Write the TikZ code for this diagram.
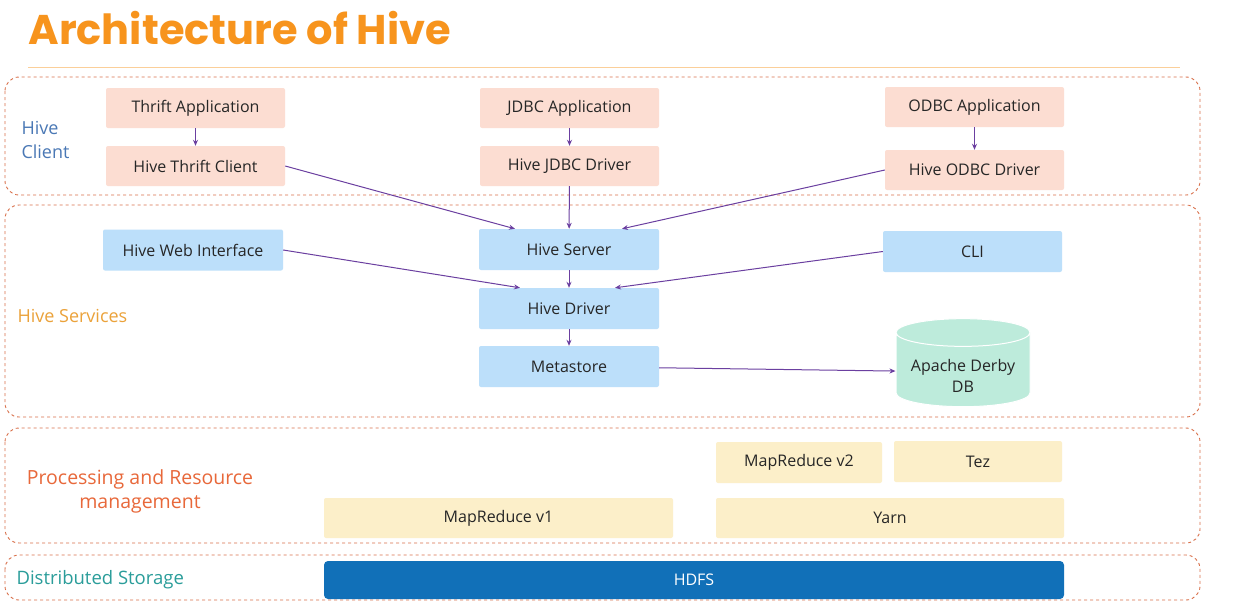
\documentclass[tikz,border=0pt]{standalone}
\usepackage{fontspec}
\setmainfont{Open Sans}
\newfontfamily\titlefont{Poppins}
\usetikzlibrary{shapes.geometric,arrows.meta}
\definecolor{ttl}{HTML}{F7941D}
\definecolor{dash}{HTML}{D9704A}
\definecolor{pinkb}{HTML}{FCDDD2}
\definecolor{blueb}{HTML}{BCDFFA}
\definecolor{yelb}{HTML}{FCEFC9}
\definecolor{mint}{HTML}{BDEBDB}
\definecolor{hdfs}{HTML}{1170B8}
\definecolor{arr}{HTML}{6B3FA0}
\definecolor{hcl}{HTML}{4A78B5}
\definecolor{hsl}{HTML}{EBA23A}
\definecolor{prl}{HTML}{E8683A}
\definecolor{dsl}{HTML}{2A9D9A}
\begin{document}
\begin{tikzpicture}[x=1pt,y=-1pt,
  every node/.style={font=\fontsize{16}{19}\selectfont, text=black!85},
  grp/.style={draw=dash,dashed,line width=0.9pt,rounded corners=14pt},
  bx/.style={rounded corners=2pt,inner sep=0pt},
  ar/.style={draw=arr,line width=1pt,-{Stealth[length=6pt,width=5pt]}}]
\useasboundingbox[fill=white] (0,0) rectangle (1233,605);
\node[anchor=west,font=\titlefont\bfseries\fontsize{41.5}{45}\selectfont,text=ttl] (title) at (25,28) {Architecture of Hive};
\draw[ttl!45,line width=0.8pt] (28,67) coordinate (l1) -- (1180,67) coordinate (l2);
\draw[grp] (5,77) rectangle (1200,195);
\draw[grp] (5,205) rectangle (1200,417);
\draw[grp] (5,428) rectangle (1200,543);
\draw[grp] (5,555) rectangle (1200,600);
\node[align=left,anchor=west,font=\fontsize{18}{24}\selectfont,text=hcl] (hc) at (18,140) {Hive\\Client};
\node[anchor=west,text=hsl,font=\fontsize{18}{21}\selectfont] (hs) at (14,316) {Hive Services};
\node[align=center,text=prl,font=\fontsize{19.5}{24}\selectfont] (pr) at (140,491) {Processing and Resource\\management};
\node[anchor=west,text=dsl,font=\fontsize{18.5}{21}\selectfont] (ds) at (13,580) {Distributed Storage};
% pink
\node[bx,fill=pinkb,minimum width=179,minimum height=40] (ta) at (195.5,108) {Thrift Application};
\node[bx,fill=pinkb,minimum width=179,minimum height=40] (tc) at (195.5,166) {Hive Thrift Client};
\node[bx,fill=pinkb,minimum width=179,minimum height=40] (ja) at (569.5,108) {JDBC Application};
\node[bx,fill=pinkb,minimum width=179,minimum height=40] (jd) at (569.5,166) {Hive JDBC Driver};
\node[bx,fill=pinkb,minimum width=179,minimum height=40] (oa) at (974.5,107) {ODBC Application};
\node[bx,fill=pinkb,minimum width=179,minimum height=40] (od) at (974.5,170) {Hive ODBC Driver};
% blue
\node[bx,fill=blueb,minimum width=180,minimum height=41] (wi) at (193,250) {Hive Web Interface};
\node[bx,fill=blueb,minimum width=180,minimum height=41] (sv) at (569,249.5) {Hive Server};
\node[bx,fill=blueb,minimum width=179,minimum height=41] (cli) at (972.5,251.5) {CLI};
\node[bx,fill=blueb,minimum width=180,minimum height=41] (dr) at (569,308.5) {Hive Driver};
\node[bx,fill=blueb,minimum width=180,minimum height=41] (ms) at (569,366.5) {Metastore};
\node[cylinder,shape border rotate=90,aspect=0.25,draw=white,line width=1pt,fill=mint,minimum width=134,minimum height=88,align=center,font=\fontsize{16}{21}\selectfont] (db) at (963,372) {\\[-2pt]Apache Derby\\DB};
% yellow
\node[bx,fill=yelb,minimum width=166,minimum height=41] (m2) at (799,462.5) {MapReduce v2};
\node[bx,fill=yelb,minimum width=168,minimum height=41] (tez) at (978,461.5) {Tez};
\node[bx,fill=yelb,minimum width=349,minimum height=40] (m1) at (498.5,518) {MapReduce v1};
\node[bx,fill=yelb,minimum width=348,minimum height=40] (yarn) at (890,518) {Yarn};
\node[bx,fill=hdfs,minimum width=740,minimum height=38,text=white,rounded corners=4pt] (hdfs) at (694,580) {HDFS};
% arrows
\draw[ar] (ta) -- (tc);
\draw[ar] (ja) -- (jd);
\draw[ar] (oa) -- (od);
\draw[ar] (tc.east) -- (sv.north west -| 515,0) ;
\draw[ar] (jd) -- (sv);
\draw[ar] (od.west) -- (sv.north east -| 622,0);
\draw[ar] (wi.east) -- (dr.north west -| 520,0);
\draw[ar] (cli.west) -- (dr.north east -| 615,0);
\draw[ar] (sv) -- (dr);
\draw[ar] (dr) -- (ms);
\draw[ar] (ms) -- (db);
\end{tikzpicture}
\end{document}
